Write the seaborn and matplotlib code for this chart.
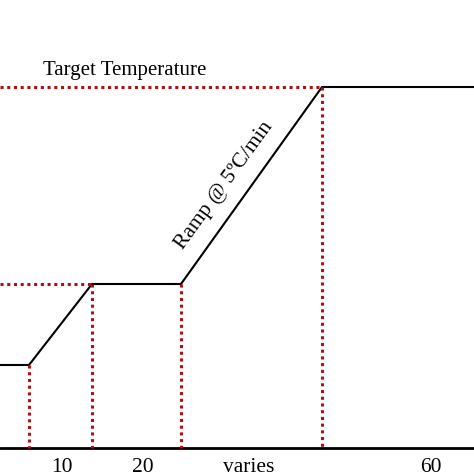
import matplotlib
matplotlib.use("Agg")
import matplotlib.pyplot as plt
import seaborn as sns

sns.set_style("white")
plt.rcParams['font.family'] = ['Liberation Serif', 'DejaVu Serif']

# profile (pixel-space schematic)
time_pts = [0, 29, 92, 181, 322, 474]
temp_pts = [365, 365, 284, 284, 87, 87]
step_x = [29, 92, 181, 322]
step_top = [365, 284, 284, 87]
seg_labels = ["10", "20", "varies", "60"]
seg_label_x = [62, 143, 249, 431]
baseline = 448

fig = plt.figure(figsize=(4.74, 4.74), dpi=100)
ax = fig.add_axes([0, 0, 1, 1])
ax.set_xlim(0, 474)
ax.set_ylim(474, 0)
ax.axis("off")

sns.lineplot(x=time_pts, y=temp_pts, color="black", lw=1.5, ax=ax, sort=False)
ax.plot([0, 474], [baseline, baseline], color="black", lw=2)
ax.plot([0, 322], [87, 87], color="#b01010", ls=(0, (1, 1.2)), lw=2.2)
ax.plot([0, 92], [284, 284], color="#b01010", ls=(0, (1, 1.2)), lw=2.2)
for x, t in zip(step_x, step_top):
    ax.plot([x, x], [t, baseline], color="#b01010", ls=(0, (1, 1.2)), lw=2.2)
for lab, x in zip(seg_labels, seg_label_x):
    ax.text(x, 468, lab, ha="center", va="center", fontsize=15.5, color="black")
ax.text(43, 70, "Target Temperature", ha="left", va="center", fontsize=15, color="black")
ax.text(224, 186, "Ramp @ 5ºC/min", ha="center", va="center", fontsize=15.5,
        rotation=54, color="black")
fig.savefig("out.png", dpi=100)
